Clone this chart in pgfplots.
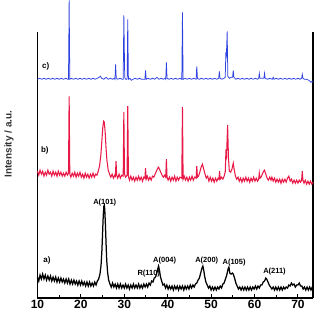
\documentclass[border=0pt]{standalone}
\usepackage{fontspec}
\setmainfont{Liberation Sans}
\usepackage{pgfplots}
\pgfplotsset{compat=1.18}
\definecolor{cblue}{RGB}{45,65,225}
\definecolor{cred}{RGB}{232,25,70}
\begin{document}
\begin{tikzpicture}
\begin{axis}[
  scale only axis, width=276pt, height=266pt,
  xmin=10, xmax=73.5, ymin=0, ymax=266,
  clip=false,
  axis x line*=bottom, axis y line*=box,
  axis line style={line width=1.6pt},
  ytick=\empty,
  xtick={10,20,...,70}, minor xtick={15,25,...,65},
  tick align=inside, major tick length=4pt, minor tick length=3pt,
  every tick/.style={black, line width=1pt},
  /pgf/number format/assume math mode=true,
  xticklabel style={font=\fontsize{12}{12}\selectfont\bfseries, yshift=1pt},
  ylabel={Intensity / a.u.},
  ylabel style={font=\fontsize{13.5}{14}\selectfont\bfseries, color=black!80, at={(axis description cs:-0.103,0.58)}, anchor=center},
  label style={font=\bfseries}
]
% a) black
\addplot[black, line width=1.25pt] coordinates {
(10.0,21)(10.3,17)(10.6,23)(10.9,19)(11.2,24)(11.5,19)(11.8,23)(12.1,18)(12.4,22)(12.7,18)(13.0,22)(13.3,17)(13.6,21)(13.9,17)(14.2,21)(14.5,16)(14.8,20)(15.1,16)(15.4,20)(15.7,16)(16.0,19)(16.3,15)(16.6,19)(16.9,15)(17.2,19)(17.5,14)(17.8,18)(18.1,14)(18.4,18)(18.7,14)(19.0,17)(19.3,13)(19.6,17)(19.9,13)(20.2,17)(20.5,13)(20.8,16)(21.1,12)(21.4,16)(21.7,12)(22.0,16)(22.3,12)(22.6,15)(22.9,12)(23.2,16)(23.5,13)(23.8,17)(24.1,19)(24.4,24)(24.65,33)(24.85,48)(25.0,65)(25.15,82)(25.3,92)(25.4,93)(25.5,89)(25.65,74)(25.8,55)(25.95,38)(26.15,26)(26.4,18)(26.7,14)(27.0,11)(27.3,15)(27.6,11)(27.9,14)(28.2,10)(28.5,14)(28.8,10)(29.1,14)(29.4,10)(29.7,13)(30.0,10)(30.3,14)(30.6,10)(30.9,13)(31.2,9)(31.5,13)(31.8,10)(32.1,14)(32.4,10)(32.7,13)(33.0,10)(33.3,14)(33.6,10)(33.9,13)(34.2,10)(34.5,14)(34.8,11)(35.1,14)(35.4,11)(35.7,15)(36.0,13)(36.3,17)(36.6,16)(36.9,20)(37.2,21)(37.5,25)(37.7,29)(37.9,32)(38.1,28)(38.3,22)(38.6,17)(38.9,13)(39.2,14)(39.5,10)(39.8,13)(40.1,9)(40.4,12)(40.7,9)(41.0,12)(41.3,8)(41.6,12)(41.9,9)(42.2,12)(42.5,8)(42.8,12)(43.1,9)(43.4,12)(43.7,8)(44.0,12)(44.3,9)(44.6,12)(44.9,9)(45.2,13)(45.5,10)(45.8,13)(46.1,11)(46.4,14)(46.7,15)(47.0,18)(47.3,20)(47.6,25)(47.9,30)(48.1,32)(48.3,28)(48.5,22)(48.8,16)(49.1,13)(49.4,10)(49.7,12)(50.0,8)(50.3,11)(50.6,8)(50.9,11)(51.2,8)(51.5,11)(51.8,9)(52.1,12)(52.4,10)(52.7,14)(53.0,15)(53.3,19)(53.6,23)(53.9,29)(54.1,31)(54.3,25)(54.6,24)(54.9,25)(55.1,24)(55.4,20)(55.7,15)(56.0,12)(56.3,9)(56.6,11)(56.9,8)(57.2,11)(57.5,8)(57.8,11)(58.1,8)(58.4,11)(58.7,8)(59.0,11)(59.3,8)(59.6,11)(59.9,9)(60.2,12)(60.5,9)(60.8,12)(61.1,10)(61.4,13)(61.7,13)(62.0,16)(62.3,17)(62.6,20)(62.8,19)(63.1,16)(63.4,13)(63.7,11)(64.0,9)(64.3,11)(64.6,8)(64.9,11)(65.2,8)(65.5,11)(65.8,8)(66.1,11)(66.4,8)(66.7,11)(67.0,9)(67.3,11)(67.6,10)(67.9,13)(68.2,12)(68.5,15)(68.8,13)(69.1,14)(69.4,11)(69.7,13)(70.0,13)(70.3,15)(70.6,12)(70.9,12)(71.2,9)(71.5,11)(71.8,8)(72.1,11)(72.4,8)(72.7,11)(73.0,8)(73.3,11)(73.5,9)
};
% b) red
\addplot[cred, line width=1.05pt] coordinates {
(10.0,127)(10.3,123)(10.6,128)(10.9,124)(11.2,127)(11.5,122)(11.8,126)(12.1,123)(12.4,128)(12.7,124)(13.0,126)(13.3,122)(13.6,127)(13.9,123)(14.2,126)(14.5,122)(14.8,127)(15.1,123)(15.4,126)(15.7,122)(16.0,125)(16.3,122)(16.6,126)(16.9,123)(17.15,125)(17.3,202)(17.45,124)(17.7,121)(18.0,125)(18.3,122)(18.6,126)(18.9,121)(19.2,125)(19.5,122)(19.8,126)(20.1,121)(20.4,124)(20.7,120)(21.0,125)(21.3,121)(21.6,124)(21.9,120)(22.2,124)(22.5,121)(22.8,125)(23.1,121)(23.4,124)(23.7,123)(24.0,127)(24.3,132)(24.6,143)(24.85,158)(25.05,171)(25.25,177)(25.4,176)(25.6,166)(25.8,150)(26.0,138)(26.3,128)(26.6,124)(26.9,121)(27.2,124)(27.5,120)(27.8,123)(27.95,122)(28.1,137)(28.25,123)(28.5,120)(28.8,124)(29.1,120)(29.4,123)(29.75,122)(29.9,186)(30.05,124)(30.3,121)(30.65,123)(30.8,192)(30.95,122)(31.2,118)(31.5,122)(31.8,118)(32.1,121)(32.4,117)(32.7,121)(33.0,118)(33.3,122)(33.6,118)(33.9,121)(34.2,117)(34.5,121)(34.75,120)(34.9,130)(35.05,119)(35.3,122)(35.6,118)(35.9,121)(36.2,118)(36.5,122)(36.8,121)(37.1,124)(37.4,127)(37.7,130)(37.9,131)(38.1,129)(38.4,126)(38.7,123)(39.0,121)(39.3,123)(39.55,121)(39.7,139)(39.85,121)(40.1,118)(40.4,121)(40.7,117)(41.0,121)(41.3,118)(41.6,122)(41.9,117)(42.2,121)(42.5,118)(42.8,121)(43.25,120)(43.4,191)(43.55,119)(43.8,122)(44.1,118)(44.4,121)(44.7,117)(45.0,121)(45.3,118)(45.6,122)(45.9,118)(46.2,121)(46.55,120)(46.7,132)(46.85,121)(47.1,122)(47.4,126)(47.7,131)(48.0,134)(48.3,129)(48.6,124)(48.9,120)(49.2,122)(49.5,117)(49.8,121)(50.1,117)(50.4,120)(50.7,116)(51.0,120)(51.3,117)(51.6,120)(51.8,119)(51.95,127)(52.1,119)(52.4,121)(52.7,119)(53.0,122)(53.25,126)(53.4,145)(53.55,142)(53.8,173)(54.0,140)(54.2,127)(54.5,126)(54.8,129)(55.1,135)(55.3,129)(55.6,122)(55.9,119)(56.2,121)(56.5,117)(56.8,120)(57.1,116)(57.4,120)(57.7,117)(58.0,121)(58.3,117)(58.6,120)(58.9,116)(59.2,120)(59.5,117)(59.8,121)(60.1,117)(60.4,120)(60.7,117)(60.95,119)(61.1,125)(61.25,120)(61.5,121)(61.8,124)(62.1,127)(62.3,128)(62.6,124)(62.9,120)(63.2,118)(63.5,121)(63.8,118)(64.0,121)(64.3,117)(64.6,120)(64.9,116)(65.2,119)(65.5,116)(65.8,119)(66.1,115)(66.4,119)(66.7,116)(67.0,119)(67.3,116)(67.6,120)(67.9,122)(68.2,117)(68.5,119)(68.8,115)(69.1,118)(69.4,115)(69.7,118)(70.0,115)(70.3,118)(70.6,116)(70.85,118)(71.0,127)(71.15,118)(71.4,115)(71.7,118)(72.0,114)(72.3,117)(72.6,114)(72.9,117)(73.2,114)(73.5,116)
};
% c) blue
\addplot[cblue, line width=0.75pt] coordinates {
(10.0,219)(10.5,220)(11.0,219)(11.5,220)(12.0,219)(12.5,220)(13.0,219)(13.5,220)(14.0,219)(14.5,220)(15.0,219)(15.5,220)(16.0,219)(16.5,220)(17.0,219)(17.15,219)(17.3,298)(17.45,219)(17.8,220)(18.3,219)(18.8,220)(19.3,219)(19.8,220)(20.3,219)(20.8,220)(21.3,219)(21.8,220)(22.3,219)(22.8,220)(23.3,219)(23.8,220)(24.2,221)(24.5,222)(24.8,220)(25.3,219)(25.8,221)(26.3,219)(26.8,220)(27.3,219)(27.7,220)(27.85,219)(28.0,234)(28.15,220)(28.5,219)(29.0,220)(29.5,219)(29.75,219)(29.9,283)(30.1,221)(30.3,219)(30.65,219)(30.8,279)(30.95,219)(31.3,220)(31.6,218)(32.0,219)(32.5,220)(33.0,219)(33.5,220)(34.0,219)(34.5,219)(34.75,219)(34.9,228)(35.05,219)(35.5,220)(36.0,219)(36.5,220)(37.0,219)(37.5,221)(38.0,219)(38.5,220)(39.0,219)(39.4,220)(39.55,219)(39.7,236)(39.85,220)(40.3,219)(40.8,220)(41.3,219)(41.8,220)(42.3,219)(42.8,220)(43.25,219)(43.4,286)(43.55,219)(44.0,220)(44.5,219)(45.0,220)(45.5,219)(46.0,220)(46.55,219)(46.7,232)(46.85,220)(47.3,219)(47.8,220)(48.3,219)(48.8,220)(49.3,219)(49.8,220)(50.3,219)(50.8,220)(51.3,219)(51.75,220)(51.9,227)(52.05,220)(52.5,219)(53.0,220)(53.25,221)(53.4,246)(53.5,240)(53.7,267)(53.85,222)(54.2,220)(54.6,221)(54.95,221)(55.1,228)(55.25,221)(55.7,219)(56.2,220)(56.7,219)(57.2,220)(57.7,219)(58.2,220)(58.7,219)(59.2,220)(59.7,219)(60.2,220)(60.7,219)(60.95,220)(61.1,225)(61.25,220)(61.6,220)(62.15,220)(62.3,225)(62.45,220)(63.0,219)(63.5,220)(64.1,219)(64.3,221)(64.5,219)(65.0,220)(65.5,219)(66.0,220)(66.5,219)(67.0,220)(67.5,219)(68.0,220)(68.5,219)(69.0,220)(69.5,219)(70.0,220)(70.5,219)(70.85,220)(71.0,224)(71.15,220)(71.5,219)(72.0,219)(72.5,218)(73.0,216)(73.3,217)(73.5,216)
};
\begin{scope}[every node/.style={font=\fontsize{7.5}{8}\selectfont\bfseries, inner sep=0pt}]
\node at (axis cs:25.5,96) {A(101)};
\node at (axis cs:39.3,38) {A(004)};
\node[anchor=west] at (axis cs:33.0,24) {R(110)};
\node at (axis cs:49.0,38) {A(200)};
\node at (axis cs:55.3,36) {A(105)};
\node at (axis cs:64.6,26) {A(211)};
\end{scope}
\begin{scope}[every node/.style={font=\fontsize{8}{9}\selectfont\bfseries, inner sep=0pt}]
\node at (axis cs:12.2,38) {a)};
\node at (axis cs:11.7,148) {b)};
\node at (axis cs:11.9,232) {c)};
\end{scope}
\end{axis}
\useasboundingbox (-37.5pt,-22pt) rectangle (282.5pt,298pt);
\end{tikzpicture}
\end{document}
